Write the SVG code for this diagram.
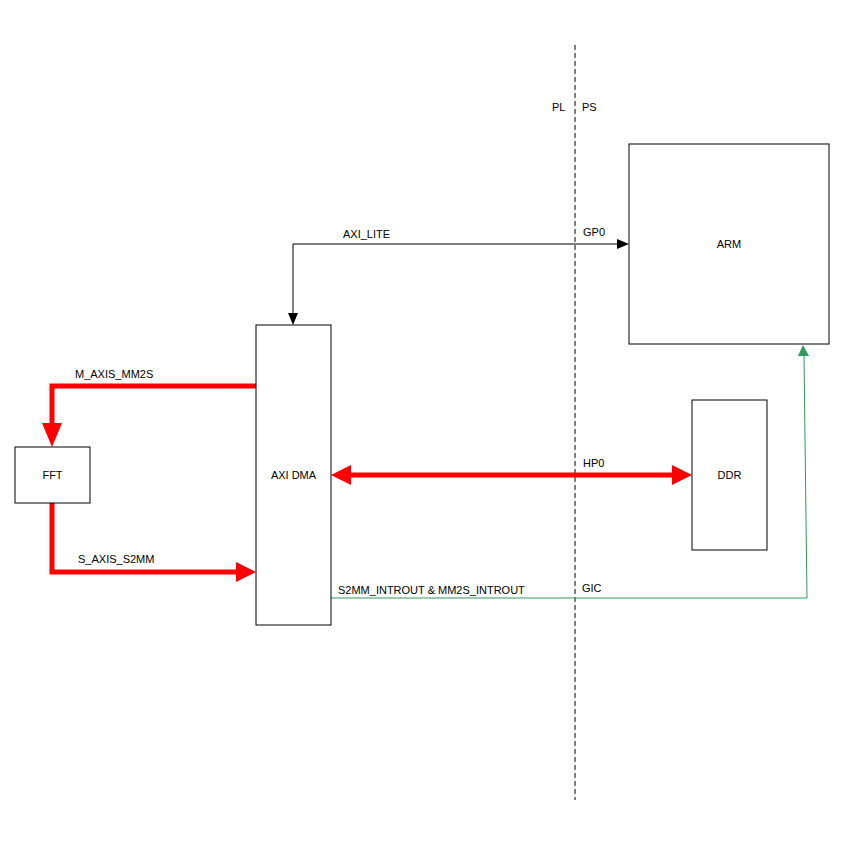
<svg xmlns="http://www.w3.org/2000/svg" width="845" height="845" viewBox="0 0 845 845">
<style>
text{font-family:"Liberation Sans",Arial,sans-serif;font-size:11px;fill:#000}
.box{fill:#fff;stroke:#000;stroke-width:1}
.red{fill:none;stroke:#f00;stroke-width:5}
</style>
<rect width="845" height="845" fill="#fff"/>
<line x1="575" y1="45" x2="575" y2="800" stroke="#000" stroke-dasharray="5,3"/>
<text x="552" y="111">PL</text><text x="582" y="111">PS</text>
<g id="connectors">
<path d="M256 386H52V425" class="red"/>
<polygon points="42,423 62,423 52,447" fill="#f00"/>
<path d="M52 503V572H238" class="red"/>
<polygon points="236,562 236,582 256,572" fill="#f00"/>
<path d="M350 475H672" class="red"/>
<polygon points="331,475 351,465 351,485" fill="#f00"/>
<polygon points="692,475 672,465 672,485" fill="#f00"/>
<path d="M293 313V244H617" fill="none" stroke="#000"/>
<polygon points="288,313 298,313 293,325" fill="#000"/>
<polygon points="617,239 617,249 629,244" fill="#000"/>
<path d="M331 598H807L804 356" fill="none" stroke="#2e9a5e"/>
<polygon points="798,356 809,356 803,345" fill="#2e9a5e"/>
<text x="343" y="238">AXI_LITE</text>
<text x="583" y="236">GP0</text>
<text x="75" y="378">M_AXIS_MM2S</text>
<text x="78" y="563">S_AXIS_S2MM</text>
<text x="583" y="467">HP0</text>
<text x="338" y="594">S2MM_INTROUT &amp; MM2S_INTROUT</text>
<text x="582" y="592">GIC</text>
</g>
<g id="axidma"><rect class="box" x="256" y="325" width="75" height="300"/><text x="293.5" y="479" text-anchor="middle">AXI DMA</text></g>
<g id="fft"><rect class="box" x="15" y="447" width="75" height="56"/><text x="52.5" y="479" text-anchor="middle">FFT</text></g>
<g id="arm"><rect class="box" x="629" y="144" width="200" height="200"/><text x="729" y="248" text-anchor="middle">ARM</text></g>
<g id="ddr"><rect class="box" x="692" y="400" width="75" height="150"/><text x="729.5" y="479" text-anchor="middle">DDR</text></g>
</svg>
